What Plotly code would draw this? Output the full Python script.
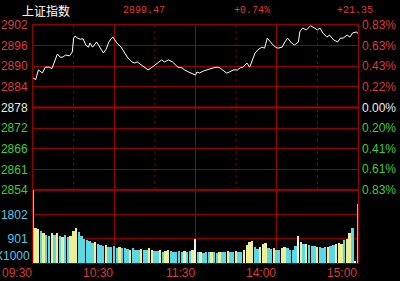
import numpy as np
import plotly.graph_objects as go

# ---------------- data ----------------
index_name = "上证指数"
last_price = "2899.47"
change_pct = "+0.74%"
change_pts = "+21.35"
prev_close = 2878.12
span_pct = 0.83  # axis half-span in percent

price_tick_text = ["2902", "2896", "2890", "2884", "2878", "2872", "2866", "2861", "2854"]
pct_tick_text = ["0.83%", "0.63%", "0.43%", "0.22%", "0.00%", "0.20%", "0.41%", "0.61%", "0.83%"]
vol_tick_vals = [901, 1802]
vol_tick_text = ["901", "1802"]
vol_unit = "X1000"
time_tick_min = [0, 60, 120, 180, 240]
time_tick_text = ["09:30", "10:30", "11:30", "14:00", "15:00"]

# (minute since 09:30 in trading time, price)
price_points = [
    (0, 2886.7), (2, 2886.2), (4, 2889.0), (5, 2888.6), (7, 2888.1), (9, 2889.8),
    (12, 2889.8), (14, 2889.4), (15, 2890.4), (16, 2891.9), (18, 2893.6), (20, 2892.7),
    (22, 2892.7), (24, 2893.3), (27, 2893.1), (29, 2894.2), (30, 2898.2), (31, 2898.8),
    (33, 2898.2), (35, 2897.9), (37, 2898.0), (39, 2896.2), (41, 2895.6), (42, 2896.8),
    (44, 2895.6), (47, 2897.1), (50, 2895.3), (52, 2893.9), (54, 2895.0), (56, 2897.1),
    (58, 2898.2), (59, 2898.5), (60, 2897.9), (62, 2896.8), (65, 2895.6), (68, 2893.9),
    (70, 2892.5), (73, 2891.3), (75, 2891.0), (77, 2891.3), (80, 2890.4), (83, 2889.6),
    (85, 2889.0), (88, 2889.8), (90, 2890.4), (92, 2891.0), (95, 2891.9), (97, 2891.3),
    (100, 2891.9), (103, 2891.3), (105, 2890.4), (107, 2889.8), (110, 2889.6), (112, 2889.0),
    (115, 2888.4), (117, 2888.1), (119, 2887.8), (120, 2887.5), (121, 2888.4), (123, 2888.1),
    (126, 2888.7), (128, 2889.0), (131, 2889.3), (133, 2889.6), (136, 2889.8), (138, 2889.6),
    (140, 2889.0), (143, 2888.1), (145, 2888.4), (148, 2889.0), (151, 2889.0), (153, 2889.6),
    (155, 2889.8), (158, 2891.0), (160, 2889.8), (162, 2891.9), (164, 2893.9), (166, 2894.8),
    (169, 2895.6), (171, 2895.3), (173, 2898.2), (176, 2896.8), (179, 2895.6), (181, 2895.3),
    (184, 2895.6), (186, 2897.1), (188, 2898.2), (191, 2896.8), (193, 2896.2), (196, 2897.1),
    (197, 2900.0), (199, 2901.1), (202, 2900.6), (205, 2901.8), (207, 2901.4), (210, 2900.6),
    (212, 2901.1), (214, 2899.7), (217, 2898.5), (219, 2899.1), (222, 2897.7), (225, 2897.1),
    (227, 2898.2), (229, 2898.2), (232, 2899.1), (234, 2898.5), (236, 2899.7), (239, 2900.0),
    (240, 2899.47),
]

# (minute, volume in thousands, direction: u=up, d=down, f=flat)
volume_points = [
    (0, 2750, "d"), (2, 1300, "u"), (4, 1250, "u"), (6, 1200, "d"), (8, 1100, "u"),
    (10, 1050, "d"), (12, 1000, "d"), (14, 1120, "u"), (16, 1050, "d"), (18, 1100, "u"),
    (20, 1000, "d"), (22, 950, "u"), (24, 1050, "d"), (26, 950, "d"), (28, 1000, "u"),
    (30, 1200, "u"), (32, 1300, "u"), (34, 1150, "d"), (36, 1000, "d"), (38, 900, "d"),
    (40, 850, "d"), (42, 800, "d"), (44, 750, "d"), (46, 780, "u"), (48, 700, "d"),
    (50, 650, "d"), (52, 620, "d"), (54, 680, "u"), (56, 600, "d"), (58, 580, "d"),
    (60, 620, "d"), (62, 560, "d"), (64, 600, "u"), (66, 540, "d"), (68, 560, "d"),
    (70, 520, "d"), (72, 500, "u"), (74, 540, "d"), (76, 480, "d"), (78, 500, "d"),
    (80, 520, "u"), (82, 470, "d"), (84, 490, "d"), (86, 560, "u"), (88, 500, "u"),
    (90, 460, "d"), (92, 440, "d"), (94, 480, "u"), (96, 420, "d"), (98, 450, "u"),
    (100, 470, "u"), (102, 430, "d"), (104, 420, "d"), (106, 410, "d"), (108, 430, "d"),
    (110, 420, "d"), (112, 440, "u"), (114, 410, "d"), (116, 430, "d"), (118, 470, "u"),
    (120, 900, "f"), (122, 420, "d"), (124, 400, "u"), (126, 380, "d"), (128, 420, "d"),
    (130, 400, "d"), (132, 390, "u"), (134, 400, "d"), (136, 380, "d"), (138, 410, "u"),
    (140, 420, "d"), (142, 400, "d"), (144, 450, "u"), (146, 420, "d"), (148, 400, "d"),
    (150, 430, "u"), (152, 400, "d"), (154, 420, "d"), (156, 500, "u"), (158, 650, "u"),
    (160, 780, "u"), (162, 820, "u"), (164, 600, "d"), (166, 520, "d"), (168, 600, "u"),
    (170, 720, "u"), (172, 750, "u"), (174, 560, "d"), (176, 520, "d"), (178, 540, "u"),
    (180, 500, "d"), (182, 480, "d"), (184, 540, "u"), (186, 600, "u"), (188, 560, "d"),
    (190, 500, "d"), (192, 480, "d"), (194, 620, "d"), (196, 1000, "f"), (198, 780, "u"),
    (200, 720, "d"), (202, 700, "u"), (204, 650, "d"), (206, 620, "d"), (208, 640, "d"),
    (210, 600, "u"), (212, 580, "d"), (214, 560, "d"), (216, 600, "d"), (218, 580, "u"),
    (220, 620, "d"), (222, 680, "d"), (224, 700, "u"), (226, 750, "u"), (228, 720, "u"),
    (230, 860, "d"), (232, 900, "u"), (234, 1100, "u"), (236, 1300, "d"), (238, 60, "f"),
    (240, 2200, "d"),
]

# ---------------- styling ----------------
RED_TXT = "#d83c3c"
GREEN_TXT = "#3ccc3c"
WHITE_TXT = "#ececec"
CYAN_TXT = "#50c8e8"
GRID = "#940000"
GRID_DOT = "#7a0000"
MID_LINE = "#b00000"
BAR_COLORS = {"u": "#eeee96", "d": "#5ad8e4", "f": "#f4f4d8"}
FONT = "Liberation Sans, Arial, sans-serif"
MONO = "Liberation Mono, DejaVu Sans Mono, monospace"

W, H = 400, 281
ML, MR, MT, MB = 33, 42, 25, 18
plot_h = H - MT - MB
split = 73 / plot_h  # volume panel share

p_t = [p[0] for p in price_points]
p_v = [p[1] for p in price_points]
v_t = [v[0] for v in volume_points]
v_v = [v[1] for v in volume_points]
v_c = [BAR_COLORS[v[2]] for v in volume_points]

p_hi = prev_close * (1 + span_pct / 100)
p_lo = prev_close * (1 - span_pct / 100)
p_ticks = list(np.linspace(p_hi, p_lo, len(price_tick_text)))
vol_max = 3 * vol_tick_vals[0]

def colored(txt, i, n):
    mid = n // 2
    col = RED_TXT if i < mid else (WHITE_TXT if i == mid else GREEN_TXT)
    return f'<span style="color:{col}">{txt}</span>'

left_text = [colored(t, i, len(price_tick_text)) for i, t in enumerate(price_tick_text)]

fig = go.Figure()
fig.add_trace(go.Bar(x=v_t, y=v_v, marker=dict(color=v_c, line=dict(width=0)),
                     width=1.4, xaxis="x2", yaxis="y3", hoverinfo="skip"))
fig.add_trace(go.Scatter(x=p_t, y=p_v, mode="lines", line=dict(color="#ffffff", width=1),
                         xaxis="x", yaxis="y", hoverinfo="skip"))

common_x = dict(range=[0, 240], tickmode="array", tickvals=time_tick_min, showgrid=True,
                gridcolor=GRID, gridwidth=1, showticklabels=False, showline=True, mirror=True,
                linecolor=GRID, linewidth=1, zeroline=False, ticks="", automargin=False)

fig.update_layout(
    template="none",
    width=W, height=H, margin=dict(l=ML, r=MR, t=MT, b=MB, pad=0, autoexpand=False),
    paper_bgcolor="#000000", plot_bgcolor="#000000", showlegend=False,
    font=dict(family=FONT, size=12, color=RED_TXT),
    bargap=0,
    xaxis=dict(domain=[0, 1], anchor="y", **common_x),
    xaxis2=dict(domain=[0, 1], anchor="y3", **common_x),
    yaxis=dict(domain=[split, 1], anchor="x", range=[p_lo, p_hi], tickmode="array",
               tickvals=p_ticks, ticktext=left_text, showgrid=True, gridcolor=GRID,
               gridwidth=1, showline=True, mirror=True, linecolor=GRID, zeroline=False,
               ticks="", tickfont=dict(family=FONT, size=12), ticklabelstandoff=2,
               automargin=False),
    yaxis3=dict(domain=[0, split], anchor="x2", range=[0, vol_max], tickmode="array",
                tickvals=[0] + vol_tick_vals + [vol_max],
                ticktext=[""] + [f'<span style="color:{CYAN_TXT}">{t}</span>' for t in vol_tick_text] + [""],
                showgrid=True, gridcolor=GRID, gridwidth=1, showline=True, mirror=True,
                linecolor=GRID, zeroline=False, ticks="",
                tickfont=dict(family=FONT, size=12), ticklabelstandoff=2,
                automargin=False),
)

shapes = [dict(type="line", xref="paper", x0=0, x1=1, yref="y", y0=prev_close, y1=prev_close,
               line=dict(color=MID_LINE, width=2))]
for t in [30, 90, 150, 210]:
    shapes.append(dict(type="line", xref="x", x0=t, x1=t, yref="paper", y0=split, y1=1,
                       line=dict(color=GRID_DOT, width=1, dash="dot"), layer="below"))
fig.update_layout(shapes=shapes)

ann = []
n = len(pct_tick_text)
for i, (yv, txt) in enumerate(zip(p_ticks, pct_tick_text)):
    col = RED_TXT if i < n // 2 else (WHITE_TXT if i == n // 2 else GREEN_TXT)
    ann.append(dict(xref="paper", x=1, xanchor="left", xshift=2, yref="y", y=yv,
                    yanchor="middle", text=txt, showarrow=False,
                    font=dict(family=FONT, size=12, color=col)))
for t, txt in zip(time_tick_min, time_tick_text):
    ann.append(dict(xref="x", x=t, xanchor="right", xshift=1, yref="paper", y=0,
                    yanchor="top", yshift=-1, text=txt, showarrow=False,
                    font=dict(family=FONT, size=12, color=RED_TXT)))
ann.append(dict(xref="paper", x=0, xanchor="right", xshift=-1, yref="paper", y=7 / plot_h,
                yanchor="middle", text=vol_unit, showarrow=False,
                font=dict(family=FONT, size=12, color=CYAN_TXT)))
# header
ann.append(dict(xref="paper", x=(20 - ML) / (W - ML - MR), xanchor="left", yref="paper",
                y=1 + 15 / plot_h, yanchor="middle", text=index_name, showarrow=False,
                font=dict(family="Noto Sans CJK SC", size=12, color="#ffffff")))
for px, txt in [(167, last_price), (272, change_pct), (375, change_pts)]:
    ann.append(dict(xref="paper", x=(px - ML) / (W - ML - MR), xanchor="right", yref="paper",
                    y=1 + 15 / plot_h, yanchor="middle", text=txt, showarrow=False,
                    font=dict(family=MONO, size=10, color=RED_TXT)))
fig.update_layout(annotations=ann)

fig.write_html("out.html")
